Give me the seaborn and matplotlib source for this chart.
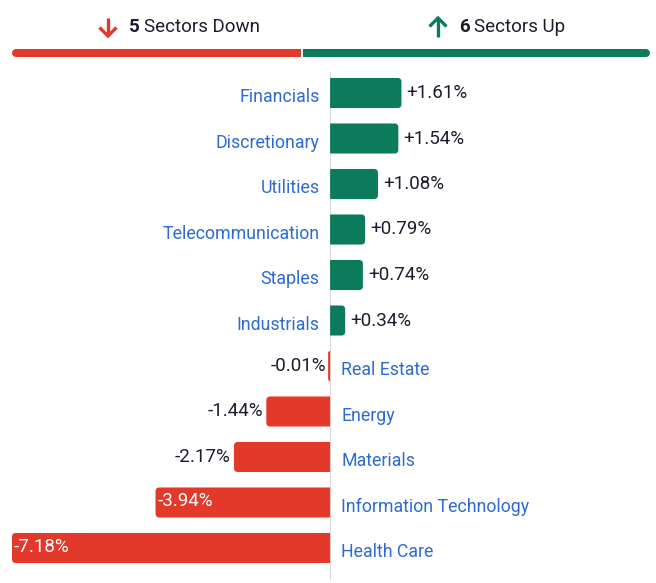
import matplotlib
matplotlib.use("Agg")
import matplotlib.pyplot as plt
import seaborn as sns
import pandas as pd
import numpy as np
from matplotlib.patches import Polygon

sectors = ["Financials", "Discretionary", "Utilities", "Telecommunication", "Staples",
           "Industrials", "Real Estate", "Energy", "Materials", "Information Technology",
           "Health Care"]
changes = [1.61, 1.54, 1.08, 0.79, 0.74, 0.34, -0.01, -1.44, -2.17, -3.94, -7.18]
down_count = 5
up_count = 6

RED = "#E3392A"
GREEN = "#0B7B5C"
BLUE = "#2E6AD4"
DARK = "#1C1C2E"
FONT = "Roboto"
CAT_FS = 12.75
VAL_FS = 13.5

sns.set_theme(style="white")
plt.rcParams["font.family"] = [FONT, "DejaVu Sans"]

W, H = 656, 583
fig = plt.figure(figsize=(W / 100, H / 100), dpi=100)

df = pd.DataFrame({"sector": sectors, "change": changes})
colors = [GREEN if v > 0 else RED for v in changes]

top_px, bot_px = 70.25, 570.75
ax = fig.add_axes([12 / W, 1 - bot_px / H, (650 - 12) / W, (bot_px - top_px) / H])
sns.barplot(data=df, x="change", y="sector", hue="sector", palette=colors, legend=False,
            orient="h", width=0.66, ax=ax, saturation=1)
ax.set_xlim(-7.18, 7.22)
ax.set_ylim(10.5, -0.5)
ax.axis("off")
ax.set_zorder(3)

# pixel overlay (y downwards)
hx = fig.add_axes([0, 0, 1, 1])
hx.set_xlim(0, W)
hx.set_ylim(H, 0)
hx.axis("off")
hx.patch.set_alpha(0)
hx.set_zorder(1)

zero_px = ax.transData.transform((0, 0))[0]
hx.plot([zero_px, zero_px], [72, 580], color="#DADADA", lw=0.75, zorder=1)


def half_rounded(left, right, top, bottom, r, round_left):
    t = np.linspace(0, np.pi / 2, 10)
    if round_left:
        # corner top-left center (left+r, top+r); bottom-left (left+r, bottom-r)
        tl = np.c_[left + r - r * np.sin(t), top + r - r * np.cos(t)]
        bl = np.c_[left + r - r * np.cos(t), bottom - r + r * np.sin(t)]
        pts = [(right, top)] + list(tl) + list(bl) + [(right, bottom)]
    else:
        tr = np.c_[right - r + r * np.sin(t), top + r - r * np.cos(t)]
        br = np.c_[right - r + r * np.cos(t), bottom - r + r * np.sin(t)]
        pts = [(left, top)] + list(tr) + list(br) + [(left, bottom)]
    return np.array(pts)


R = 3.5
for p in ax.patches:
    x, y, w, h = p.get_x(), p.get_y(), p.get_width(), p.get_height()
    (dx0, dy0) = ax.transData.transform((min(x, x + w), y))
    (dx1, dy1) = ax.transData.transform((max(x, x + w), y + h))
    left, right = dx0, dx1
    top, bottom = sorted([H - dy0, H - dy1])
    col = p.get_facecolor()
    neg = left < zero_px - 0.25
    if right - left < 2:
        if neg:
            left = right - 2
        else:
            right = left + 2
    r = min(R, (right - left))
    pts = half_rounded(left, right, top, bottom, r, neg)
    hx.add_patch(Polygon(pts, closed=True, fc=col, ec="none", zorder=2))
    p.set_visible(False)

for i, (name, v) in enumerate(zip(sectors, changes)):
    if v > 0:
        ax.annotate(name, (0, i), xytext=(-7.5, -3), textcoords="offset points",
                    ha="right", va="center", color=BLUE, fontsize=CAT_FS)
        ax.annotate(f"+{v:.2f}%", (v, i), xytext=(3.5, 0), textcoords="offset points",
                    ha="left", va="center", color=DARK, fontsize=VAL_FS)
    else:
        ax.annotate(name, (0, i), xytext=(8, -3), textcoords="offset points",
                    ha="left", va="center", color=BLUE, fontsize=CAT_FS)
        if v < -3:
            ax.annotate(f"{v:.2f}%", (v, i), xytext=(1.5, 1), textcoords="offset points",
                        ha="left", va="center", color="white", fontsize=VAL_FS)
        else:
            ax.annotate(f"{v:.2f}%", (v, i), xytext=(-2.5, 0), textcoords="offset points",
                        ha="right", va="center", color=DARK, fontsize=VAL_FS)

# header
total = down_count + up_count
x0, x1 = 12, 650
split = x0 + (x1 - x0) * down_count / total
yb = 53
lw_pt = 8 * 0.72
cap = 4
hx.plot([x0 + cap, split - 1 - cap], [yb, yb], color=RED, lw=lw_pt, solid_capstyle="round")
hx.plot([split - 1 - cap, split - 1], [yb, yb], color=RED, lw=lw_pt, solid_capstyle="butt")
hx.plot([split + 1, split + 1 + cap], [yb, yb], color=GREEN, lw=lw_pt, solid_capstyle="butt")
hx.plot([split + 1 + cap, x1 - cap], [yb, yb], color=GREEN, lw=lw_pt, solid_capstyle="round")

alw = 3.3 * 0.72
# down arrow
hx.plot([108, 108], [17.5, 35], color=RED, lw=alw, solid_capstyle="butt")
hx.plot([99.5, 108, 116.5], [27.5, 36, 27.5], color=RED, lw=alw, solid_joinstyle="miter",
        solid_capstyle="butt")
# up arrow
hx.plot([438, 438], [19, 37], color=GREEN, lw=alw, solid_capstyle="butt")
hx.plot([429.5, 438, 446.5], [26.5, 18, 26.5], color=GREEN, lw=alw, solid_joinstyle="miter",
        solid_capstyle="butt")

hx.text(129, 27, f"{down_count}", color=DARK, fontsize=13.5, fontweight="bold", ha="left", va="center")
hx.text(144, 27, "Sectors Down", color=DARK, fontsize=13.5, ha="left", va="center")
hx.text(459, 27, f"{up_count}", color=DARK, fontsize=13.5, fontweight="bold", ha="left", va="center")
hx.text(474, 27, "Sectors Up", color=DARK, fontsize=13.5, ha="left", va="center")

fig.savefig("out.png", dpi=100)
